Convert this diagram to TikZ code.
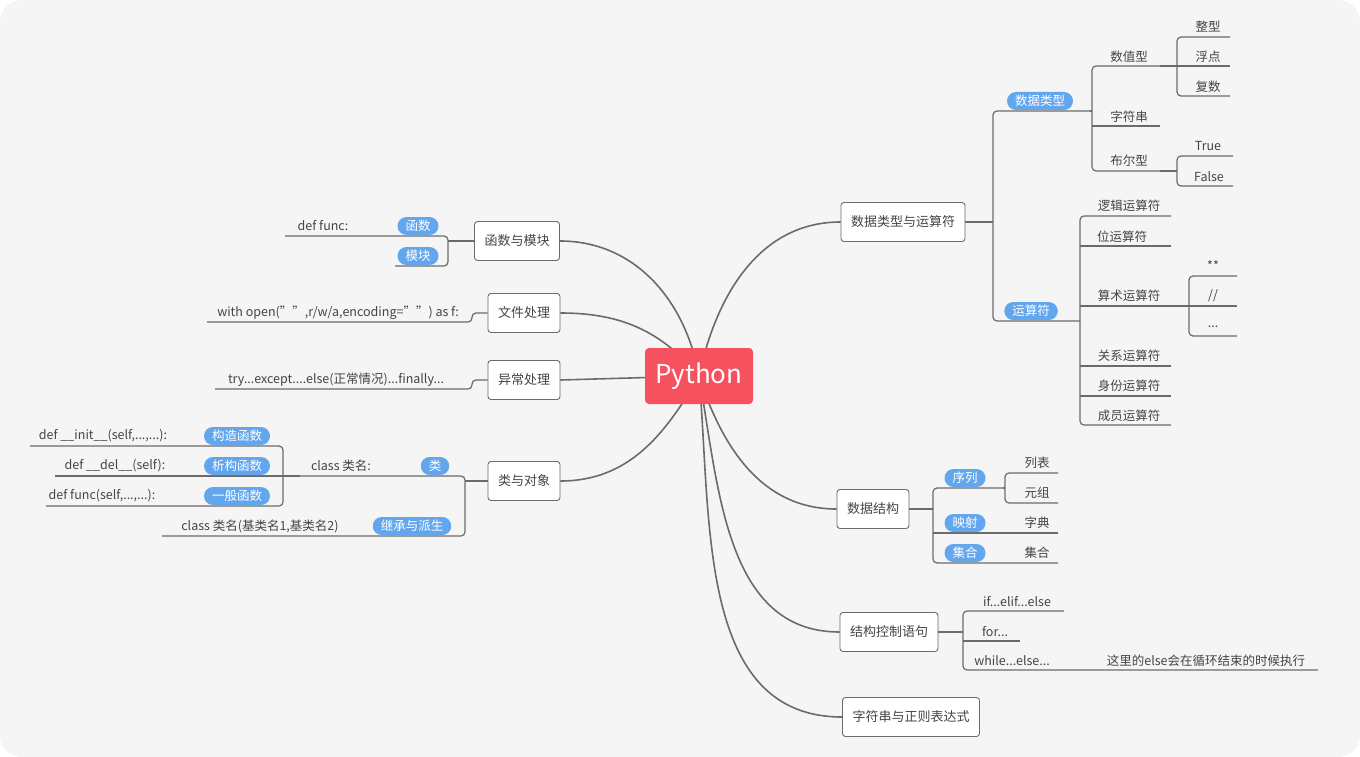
\documentclass[tikz,border=0pt]{standalone}
\usepackage{fontspec}
\setmainfont{Noto Sans CJK SC}
\usetikzlibrary{positioning}
\definecolor{bgc}{HTML}{F5F5F5}
\definecolor{linec}{HTML}{6B6B6B}
\definecolor{txtc}{HTML}{444444}
\definecolor{pyred}{HTML}{F5515F}
\definecolor{pillc}{HTML}{62A6EE}
\tikzset{
  branch/.style={draw=linec,fill=white,rounded corners=3pt,line width=0.9pt,
    minimum height=39pt,inner xsep=10pt,text=txtc,font=\fontsize{13}{15}\selectfont},
  leaf/.style={text=txtc,font=\fontsize{12.5}{14}\selectfont,inner sep=1pt},
  pill/.style={fill=pillc,text=white,rounded corners=9pt,minimum height=18pt,
    inner xsep=8pt,inner ysep=0pt,font=\fontsize{12.5}{14}\selectfont},
  wire/.style={draw=linec,line width=1.2pt,rounded corners=4pt},
  curve/.style={draw=linec,line width=1.6pt},
}
\begin{document}
\begin{tikzpicture}[x=1pt,y=-1pt]
  \useasboundingbox (0,0) rectangle (1360,757);
  \fill[bgc,rounded corners=22pt] (0,0) rectangle (1360,757);
  % main branches
  \node[branch] (types) at (903,222) {数据类型与运算符};
  \node[branch] (func) at (517,241) {函数与模块};
  \node[branch] (file) at (524,313) {文件处理};
  \node[branch] (exc) at (524,380) {异常处理};
  \node[branch] (cls) at (524,481) {类与对象};
  \node[branch] (ds) at (873,509) {数据结构};
  \node[branch] (ctrl) at (889,632) {结构控制语句};
  \node[branch] (re) at (911,717) {字符串与正则表达式};
  \coordinate (c) at (699,376);
  \draw[curve] (c) to[out=78,in=180] (types.west);
  \draw[curve] (c) to[out=100,in=0] (func.east);
  \draw[curve] (c) to[out=130,in=0] (file.east);
  \draw[curve] (c) -- (exc.east);
  \draw[curve] (c) to[out=-120,in=0] (cls.east);
  \draw[curve] (c) to[out=-72,in=180] (ds.west);
  \draw[curve] (c) to[out=-80,in=180] (ctrl.west);
  \draw[curve] (c) to[out=-85,in=180] (re.west);
  \node[fill=pyred,text=white,rounded corners=4pt,minimum width=108pt,minimum height=56pt,
    font=\fontsize{26}{30}\selectfont] (py) at (699,376) {Python};

  % data types and operators
  \draw[wire] (types.east) -- (993,222);
  \draw[wire] (1090,111) -- (993,111) -- (993,321) -- (1080,321);
  \node[pill] (dtype) at (1040,101) {数据类型};
  \node[pill] (oper) at (1031,311) {运算符};
  \draw[wire] (1160,66) -- (1092,66) -- (1092,171) -- (1160,171);
  \draw[wire] (1090,111) -- (1092,111);
  \draw[wire] (1092,126) -- (1160,126);
  \node[leaf] (num) at (1129,57) {数值型};
  \node[leaf] (str) at (1129,117) {字符串};
  \node[leaf] (bool) at (1129,161) {布尔型};
  \draw[wire] (1230,37) -- (1177,37) -- (1177,96) -- (1230,96);
  \draw[wire] (1160,66) -- (1230,66);
  \foreach \t/\y [count=\k] in {整型/27,浮点/57,复数/87}
    \node[leaf] (num\k) at (1208,\y) {\t};
  \draw[wire] (1233,156) -- (1177,156) -- (1177,186) -- (1233,186);
  \draw[wire] (1160,171) -- (1177,171);
  \node[leaf] (true) at (1208,146) {True};
  \node[leaf] (false) at (1209,177) {False};
  \draw[wire] (1171,216) -- (1080,216) -- (1080,425) -- (1171,425);
  \foreach \y in {246,306,366,396}
    \draw[wire] (1080,\y) -- (1171,\y);
  \foreach \t/\x/\y [count=\k] in {逻辑运算符/1129/206,位运算符/1122/237,算术运算符/1129/296,
      关系运算符/1129/356,身份运算符/1129/386,成员运算符/1129/416}
    \node[leaf] (op\k) at (\x,\y) {\t};
  \draw[wire] (1237,276) -- (1189,276) -- (1189,336) -- (1237,336);
  \draw[wire] (1171,306) -- (1237,306);
  \node[leaf] (ar1) at (1213,266) {**};
  \node[leaf] (ar2) at (1213,296) {//};
  \node[leaf] (ar3) at (1213,327) {...};

  % functions and modules
  \draw[wire] (func.west) -- (448,241);
  \draw[wire] (285,236) -- (448,236) -- (448,266) -- (395,266);
  \node[leaf] (deff) at (323,226) {def func:};
  \node[pill] (fn) at (418,226) {函数};
  \node[pill] (mod) at (418,256) {模块};

  % files and exceptions
  \draw[wire] (207,322) -- (472,322) -- (472,313) -- (file.west);
  \node[leaf] (open) at (338,313) {with open("",r/w/a,encoding="") as f:};
  \draw[wire] (215,389) -- (472,389) -- (472,380) -- (exc.west);
  \node[leaf] (try) at (336,380) {try...except....else(正常情况)...finally...};

  % classes
  \draw[wire] (cls.west) -- (465,481);
  \draw[wire] (300,476) -- (465,476) -- (465,536) -- (162,536);
  \node[leaf] (cname) at (341,466) {class 类名:};
  \node[pill] (cl) at (435,466) {类};
  \node[pill] (inh) at (412,526) {继承与派生};
  \node[leaf] (sub) at (260,526) {class 类名(基类名1,基类名2)};
  \draw[wire] (30,446) -- (283,446) -- (283,506) -- (46,506);
  \draw[wire] (55,476) -- (300,476);
  \node[pill] (ctor) at (237,436) {构造函数};
  \node[pill] (dtor) at (237,466) {析构函数};
  \node[pill] (meth) at (237,496) {一般函数};
  \node[leaf] (init) at (103,436) {def \_\_init\_\_(self,...,...):};
  \node[leaf] (del) at (115,466) {def \_\_del\_\_(self):};
  \node[leaf] (mf) at (102,496) {def func(self,...,...):};

  % data structures
  \draw[wire] (ds.east) -- (933,509);
  \draw[wire] (1003,488) -- (933,488) -- (933,563) -- (1058,563);
  \draw[wire] (933,533) -- (1058,533);
  \node[pill] (seq) at (965,478) {序列};
  \node[pill] (map) at (965,523) {映射};
  \node[pill] (set) at (965,553) {集合};
  \draw[wire] (1058,473) -- (1005,473) -- (1005,503) -- (1058,503);
  \draw[wire] (1003,488) -- (1005,488);
  \node[leaf] (list) at (1037,463) {列表};
  \node[leaf] (tup) at (1037,493) {元组};
  \node[leaf] (dict) at (1037,523) {字典};
  \node[leaf] (sset) at (1037,553) {集合};

  % control flow
  \draw[wire] (ctrl.east) -- (963,632);
  \draw[wire] (1064,611) -- (963,611) -- (963,670) -- (1318,670);
  \draw[wire] (963,641) -- (1020,641);
  \node[leaf] (if) at (1017,602) {if...elif...else};
  \node[leaf] (for) at (995,632) {for...};
  \node[leaf] (while) at (1012,661) {while...else...};
  \node[leaf] (note) at (1206,661) {这里的else会在循环结束的时候执行};
\end{tikzpicture}
\end{document}
